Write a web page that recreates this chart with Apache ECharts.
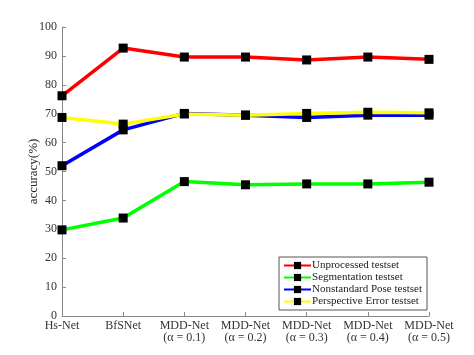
<!DOCTYPE html>
<html><head><meta charset="utf-8">
<script src="https://cdn.jsdelivr.net/npm/echarts@6/dist/echarts.min.js"></script>
<style>html,body{margin:0;padding:0;background:#fff}#c{width:474px;height:355px}</style>
</head><body><div id="c"></div>
<script>
const categories = ["Hs-Net", "BfSNet", "MDD-Net\n(α = 0.1)", "MDD-Net\n(α = 0.2)", "MDD-Net\n(α = 0.3)", "MDD-Net\n(α = 0.4)", "MDD-Net\n(α = 0.5)"];
const unprocessed = [76.2, 92.7, 89.6, 89.6, 88.6, 89.6, 88.8];
const segmentation = [29.8, 33.9, 46.5, 45.4, 45.7, 45.7, 46.3];
const nonstandardPose = [52.0, 64.4, 70.1, 69.5, 68.7, 69.5, 69.5];
const perspectiveError = [68.7, 66.4, 69.9, 69.5, 70.1, 70.5, 70.3];
const seriesNames = ["Unprocessed testset", "Segmentation testset", "Nonstandard Pose testset", "Perspective Error testset"];
const seriesColors = ["#ff0000", "#00ff00", "#0000ff", "#ffff00"];
const yTicks = [0, 10, 20, 30, 40, 50, 60, 70, 80, 90, 100];

const font = "'Liberation Serif', 'DejaVu Serif', serif";
const dataSets = [unprocessed, segmentation, nonstandardPose, perspectiveError];

const chart = echarts.init(document.getElementById('c'));
chart.setOption({
  animation: false,
  backgroundColor: '#fff',
  grid: { left: 62, right: 45, top: 27, bottom: 39, containLabel: false },
  legend: {
    orient: 'vertical',
    right: 47, bottom: 45,
    data: seriesNames,
    itemWidth: 27, itemHeight: 9, itemGap: 1,
    padding: [3, 5, 3, 4],
    borderColor: '#555', borderWidth: 1,
    backgroundColor: '#fff',
    textStyle: { fontFamily: font, fontSize: 11, color: '#222', padding: [0, 0, 0, -4] }
  },
  xAxis: {
    type: 'category',
    data: categories,
    boundaryGap: false,
    axisLine: { lineStyle: { color: '#888', width: 1 } },
    axisTick: { inside: true, length: 4, alignWithLabel: true, lineStyle: { color: '#888' } },
    axisLabel: { fontFamily: font, fontSize: 12, color: '#333', margin: 4, lineHeight: 12, interval: 0 }
  },
  yAxis: {
    type: 'value',
    min: yTicks[0], max: yTicks[yTicks.length - 1], interval: 10,
    name: 'accuracy(%)',
    nameLocation: 'middle', nameGap: 22,
    nameMoveOverlap: false,
    nameTextStyle: { fontFamily: font, fontSize: 13, color: '#222' },
    axisLine: { show: true, lineStyle: { color: '#888', width: 1 } },
    axisTick: { show: true, inside: true, length: 4, lineStyle: { color: '#888' } },
    splitLine: { show: false },
    axisLabel: { fontFamily: font, fontSize: 12, color: '#333', margin: 5 }
  },
  series: seriesNames.map((name, i) => ({
    name: name,
    type: 'line',
    data: dataSets[i],
    symbol: 'rect',
    symbolSize: 9,
    lineStyle: { color: seriesColors[i], width: 3.5 },
    itemStyle: { color: '#000', borderWidth: 0 },
    emphasis: { disabled: true },
    z: 2 + i
  }))
});
</script></body></html>
